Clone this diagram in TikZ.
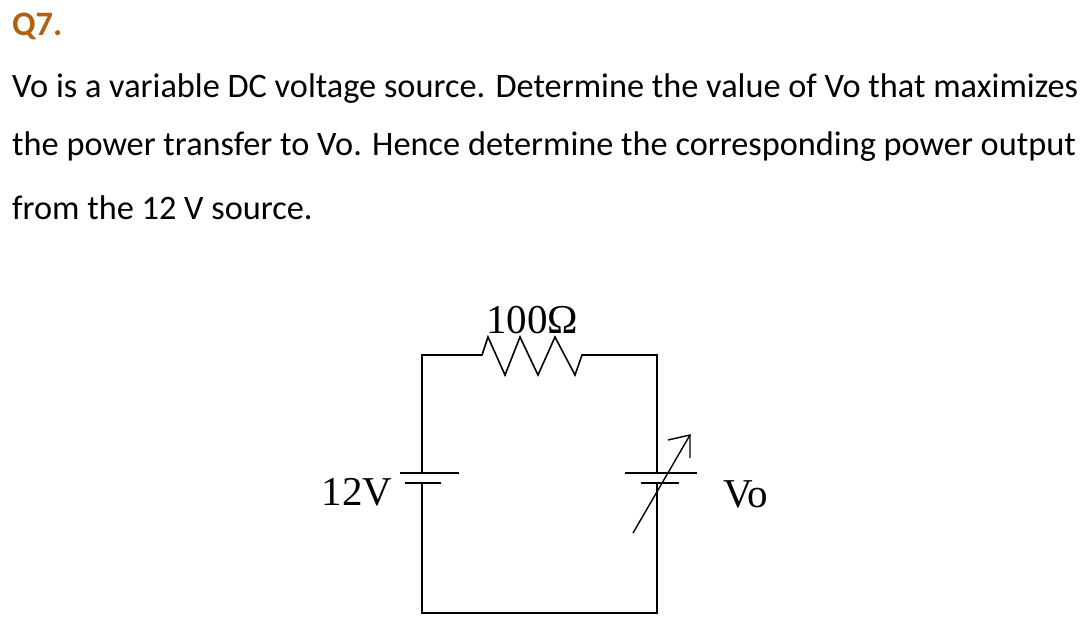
\documentclass[tikz,border=0pt]{standalone}
\usepackage{fontspec}
\setmainfont{Carlito}
\newfontfamily\tms{Liberation Serif}
\definecolor{qbrown}{RGB}{176,96,16}
\begin{document}
\begin{tikzpicture}[x=1pt,y=-1pt,
  wire/.style={line width=1.6pt},
  txt/.style={anchor=base west,inner sep=0pt,font=\fontsize{34.3}{38}\selectfont},
  clab/.style={inner sep=0pt,font=\tms\fontsize{41}{44}\selectfont}]
\useasboundingbox (0,0) rectangle (1084,633);
\node[txt,text=qbrown,font=\bfseries\fontsize{34.3}{38}\selectfont] (q) at (12,35) {Q7.};
\node[txt] (l1) at (12,97) {Vo is a variable DC voltage source. Determine the value of Vo that maximizes};
\node[txt] (l2) at (12,155) {the power transfer to Vo. Hence determine the corresponding power output};
\node[txt] (l3) at (12,219) {from the 12 V source.};
\coordinate (tl) at (422,355); \coordinate (tr) at (657,355);
\coordinate (bl) at (422,613); \coordinate (br) at (657,613);
\coordinate (ra) at (482,355); \coordinate (rb) at (582,355);
\coordinate (bt) at (422,473); \coordinate (bb) at (422,483);
\coordinate (vt) at (657,473); \coordinate (vb) at (657,483);
\draw[wire,line join=miter] (bt) -- (tl) -- (ra) -- (488,337) -- (505,375) -- (520,337) -- (538,375) -- (555,337) -- (575,375) -- (rb) -- (tr) -- (vt);
\draw[wire] (bb) -- (bl) -- (br) -- (vb);
\draw[wire] (400,473) -- (459,473);
\draw[wire] (405,483) -- (441,483);
\draw[wire] (625,473) -- (697,473);
\draw[wire] (641,483) -- (679,483);
\draw[line width=1.4pt] (633,533) -- (690,435);
\draw[line width=1.4pt] (668,440) -- (690,435) -- (690,458);
\node[clab] (r) at (532,320) {100Ω};
\node[clab] (v12) at (357,492) {12V};
\node[clab] (vo) at (746,494) {Vo};
\end{tikzpicture}
\end{document}
